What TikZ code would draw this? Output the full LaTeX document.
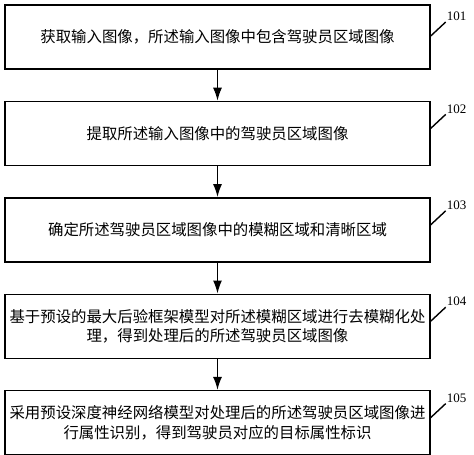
\documentclass[tikz,border=0pt]{standalone}
\usepackage{fontspec}
\setmainfont{Liberation Serif}
\newfontfamily\cjk{Noto Sans CJK SC}
\usepackage{tikz}
\usetikzlibrary{positioning,arrows.meta}

\begin{document}
\begin{tikzpicture}[x=1pt,y=1pt,node distance=31pt]
				\tikzstyle{stepbox}=[draw,line width=1.4pt,minimum width=425pt,minimum height=64pt,
				inner sep=0pt,align=center,font=\cjk\fontsize{15.4}{19.5}\selectfont]
				\tikzstyle{lab}=[anchor=south west,inner sep=1pt,font=\fontsize{13}{13}\selectfont]
				\tikzstyle{flow}=[line width=1.4pt,-{Latex[length=13pt,width=9pt]}]
				\tikzstyle{lead}=[line width=1.4pt]
				\useasboundingbox (0,0) rectangle (474,-455);
				\node[stepbox] (b1) at (217.5,-37) {获取输入图像，所述输入图像中包含驾驶员区域图像};
				\node[stepbox,below=of b1] (b2) {提取所述输入图像中的驾驶员区域图像};
				\node[stepbox,below=of b2] (b3) {确定所述驾驶员区域图像中的模糊区域和清晰区域};
				\node[stepbox,below=of b3] (b4) {基于预设的最大后验框架模型对所述模糊区域进行去模糊化处\\理，得到处理后的所述驾驶员区域图像};
				\node[stepbox,below=of b4] (b5) {采用预设深度神经网络模型对处理后的所述驾驶员区域图像进\\行属性识别，得到驾驶员对应的目标属性标识};
				\node[lab] (l1) at ([xshift=15pt,yshift=15pt]b1.east) {101};
				\node[lab] (l2) at ([xshift=15pt,yshift=19pt]b2.east) {102};
				\node[lab] (l3) at ([xshift=15pt,yshift=19pt]b3.east) {103};
				\node[lab] (l4) at ([xshift=15pt,yshift=19pt]b4.east) {104};
				\node[lab] (l5) at ([xshift=15pt,yshift=19pt]b5.east) {105};
				\draw[lead] ([yshift=1pt]b1.east) -- (l1.south west);
				\draw[lead] ([yshift=5pt]b2.east) -- (l2.south west);
				\draw[lead] ([yshift=5pt]b3.east) -- (l3.south west);
				\draw[lead] ([yshift=5pt]b4.east) -- (l4.south west);
				\draw[lead] ([yshift=5pt]b5.east) -- (l5.south west);
				\draw[flow] (b1) -- (b2);
				\draw[flow] (b2) -- (b3);
				\draw[flow] (b3) -- (b4);
				\draw[flow] (b4) -- (b5);
\end{tikzpicture}
\end{document}
